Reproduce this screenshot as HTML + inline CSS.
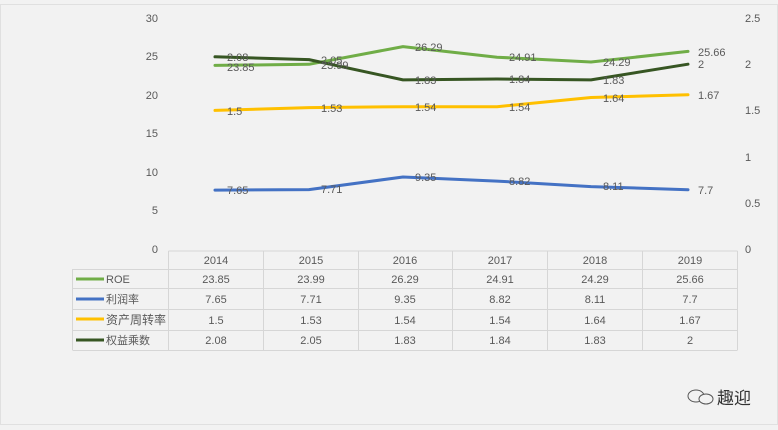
<!DOCTYPE html>
<html><head><meta charset="utf-8"><style>
body{margin:0;background:#f2f2f2}
svg{display:block}
text{font-family:"Liberation Sans","Noto Sans CJK SC",sans-serif;font-size:11px;fill:#595959}
</style></head><body>
<svg width="778" height="430" viewBox="0 0 778 430">
<rect x="0.5" y="4.5" width="777" height="420" fill="#f2f2f2" stroke="#e0e0e0"/>
<g text-anchor="end">
<text x="158" y="22">30</text><text x="158" y="60">25</text><text x="158" y="99">20</text>
<text x="158" y="137">15</text><text x="158" y="176">10</text><text x="158" y="214">5</text><text x="158" y="253">0</text>
</g>
<g>
<text x="745" y="22">2.5</text><text x="745" y="68">2</text><text x="745" y="114">1.5</text>
<text x="745" y="161">1</text><text x="745" y="207">0.5</text><text x="745" y="253">0</text>
</g>
<g fill="none" stroke-width="3" stroke-linejoin="round" stroke-linecap="round">
<polyline stroke="#4472c4" points="215,190.1 309,189.6 403,177 497,181.1 591,186.6 688,189.7"/>
<polyline stroke="#ffc000" points="215,110.4 309,107.6 403,106.7 497,106.7 591,97.5 688,94.7"/>
<polyline stroke="#70ad47" points="215,65.4 309,64.3 403,46.6 497,57.2 591,62 688,51.4"/>
<polyline stroke="#375623" points="215,56.8 309,59.6 403,79.9 497,79 591,79.9 688,64.2"/>
</g>
<g style="fill:#404040">
<text x="227" y="194">7.65</text><text x="321" y="193">7.71</text><text x="415" y="181">9.35</text><text x="509" y="185">8.82</text><text x="603" y="190">8.11</text><text x="698" y="194">7.7</text>
<text x="227" y="115">1.5</text><text x="321" y="112">1.53</text><text x="415" y="111">1.54</text><text x="509" y="111">1.54</text><text x="603" y="102">1.64</text><text x="698" y="99">1.67</text>
<text x="227" y="71">23.85</text><text x="321" y="69">23.99</text><text x="415" y="51">26.29</text><text x="509" y="61">24.91</text><text x="603" y="66">24.29</text><text x="698" y="56">25.66</text>
<text x="227" y="61">2.08</text><text x="321" y="64">2.05</text><text x="415" y="84">1.83</text><text x="509" y="83">1.84</text><text x="603" y="84">1.83</text><text x="698" y="68">2</text>
</g>
<g stroke="#d6d6d6" stroke-width="1" fill="none">
<path d="M168.5 251V350 M168.5 251H737.5 M72.5 269.5H737.5 M72.5 288.5H737.5 M72.5 309.5H737.5 M72.5 330.5H737.5 M72.5 350.5H737.5 M72.5 269V350"/>
<path d="M263.5 251V350 M358.5 251V350 M452.5 251V350 M547.5 251V350 M642.5 251V350 M737.5 251V350"/>
</g>
<g text-anchor="middle">
<text x="216" y="264">2014</text><text x="311" y="264">2015</text><text x="405" y="264">2016</text><text x="500" y="264">2017</text><text x="595" y="264">2018</text><text x="690" y="264">2019</text>
<text x="216" y="283">23.85</text><text x="311" y="283">23.99</text><text x="405" y="283">26.29</text><text x="500" y="283">24.91</text><text x="595" y="283">24.29</text><text x="690" y="283">25.66</text>
<text x="216" y="303">7.65</text><text x="311" y="303">7.71</text><text x="405" y="303">9.35</text><text x="500" y="303">8.82</text><text x="595" y="303">8.11</text><text x="690" y="303">7.7</text>
<text x="216" y="324">1.5</text><text x="311" y="324">1.53</text><text x="405" y="324">1.54</text><text x="500" y="324">1.54</text><text x="595" y="324">1.64</text><text x="690" y="324">1.67</text>
<text x="216" y="344">2.08</text><text x="311" y="344">2.05</text><text x="405" y="344">1.83</text><text x="500" y="344">1.84</text><text x="595" y="344">1.83</text><text x="690" y="344">2</text>
</g>
<g stroke-width="3">
<line x1="76" y1="279" x2="104" y2="279" stroke="#70ad47"/>
<line x1="76" y1="299" x2="104" y2="299" stroke="#4472c4"/>
<line x1="76" y1="319" x2="104" y2="319" stroke="#ffc000"/>
<line x1="76" y1="340" x2="104" y2="340" stroke="#375623"/>
</g>
<text x="106" y="283">ROE</text><text x="106" y="303">利润率</text><text x="106" y="324" style="font-size:12px">资产周转率</text><text x="106" y="344">权益乘数</text>
<g fill="none" stroke="#555" stroke-width="1">
<ellipse cx="696" cy="396" rx="8" ry="6"/><ellipse cx="706" cy="399" rx="7" ry="5" fill="#f2f2f2"/>
</g>
<text x="717" y="404" style="font-size:17px;fill:#333">趣迎</text>
</svg>
</body></html>
